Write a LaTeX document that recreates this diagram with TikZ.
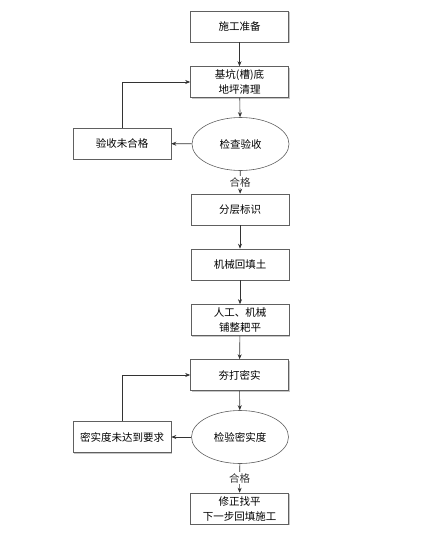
\documentclass[tikz,border=0pt]{standalone}
\usepackage{fontspec}
\setmainfont{Noto Sans CJK SC}
\usetikzlibrary{shapes.geometric,arrows.meta,shadows}
\begin{document}
\begin{tikzpicture}[x=1pt,y=-1pt,
  box/.style={draw=gray!75!black,line width=0.6pt,fill=white,minimum width=98pt,minimum height=31pt,inner sep=1pt,align=center,font=\fontsize{10.5}{15}\selectfont,
    drop shadow={shadow xshift=1.2pt,shadow yshift=-1.2pt,fill=gray!45,opacity=1}},
  oval/.style={ellipse,draw=gray!75!black,line width=0.6pt,fill=white,minimum width=97pt,minimum height=53pt,inner sep=0pt,font=\fontsize{10.5}{15}\selectfont},
  arr/.style={-{Stealth[length=5pt,width=4pt]},line width=0.6pt,black!80},
  lbl/.style={font=\fontsize{10.5}{15}\selectfont,fill=white,inner sep=1pt}]
\useasboundingbox (0,0) rectangle (425,533);
\node[box] (a) at (239.5,26.5) {施工准备};
\node[box] (b) at (239.5,82) {基坑(槽)底\\地坪清理};
\node[oval] (c) at (240.5,144) {检查验收};
\node[box] (d) at (122,143.5) {验收未合格};
\node[box] (e) at (240,209.5) {分层标识};
\node[box] (f) at (240,264.5) {机械回填土};
\node[box] (g) at (240,320) {人工、机械\\铺整耙平};
\node[box] (h) at (239.5,375) {夯打密实};
\node[oval] (i) at (240,437) {检验密实度};
\node[box] (j) at (122,437) {密实度未达到要求};
\node[box] (k) at (239.5,508.5) {修正找平\\下一步回填施工};
\draw[arr] (a) -- (b);
\draw[arr] (b) -- (c);
\draw[arr] (c) -- (d);
\draw[arr] (d.north) |- (b.west);
\draw[arr] (c) -- node[lbl,pos=0.5] {合格} (e);
\draw[arr] (e) -- (f);
\draw[arr] (f) -- (g);
\draw[arr] (g) -- (h);
\draw[arr] (h) -- (i);
\draw[arr] (i) -- (j);
\draw[arr] (j.north) |- (h.west);
\draw[arr] (i) -- node[lbl,pos=0.5] {合格} (k);
\end{tikzpicture}
\end{document}
